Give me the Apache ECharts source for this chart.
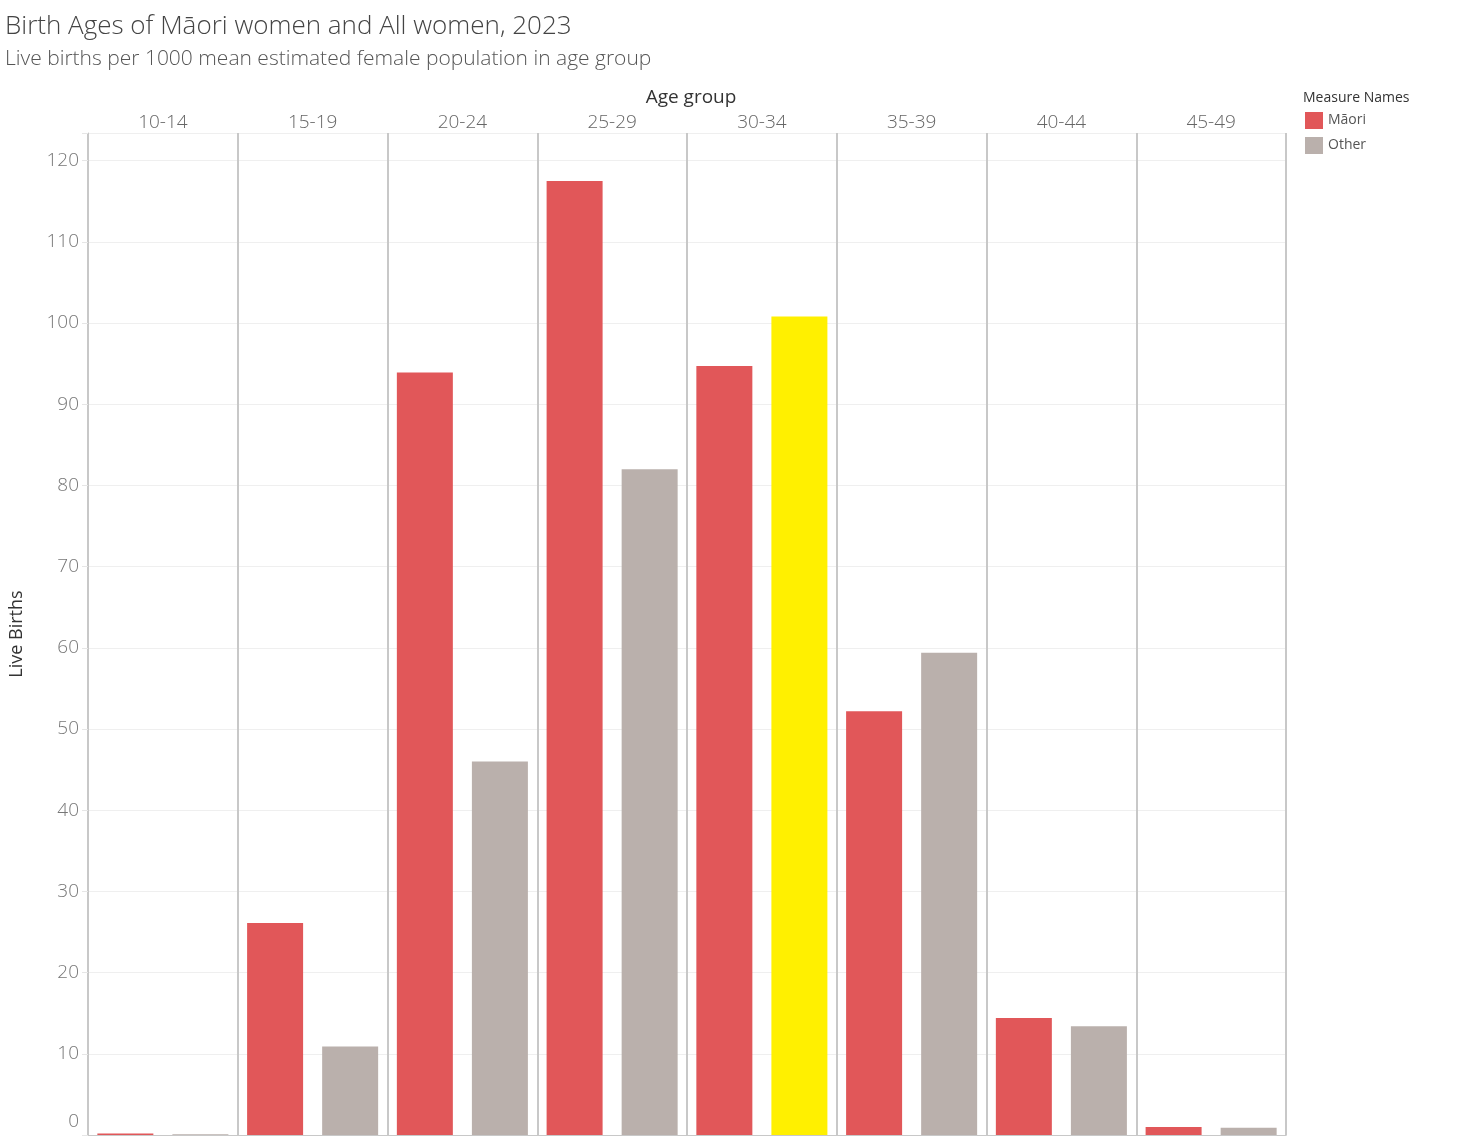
<!DOCTYPE html>
<html>
<head>
<meta charset="utf-8">
<script src="https://cdn.jsdelivr.net/npm/echarts@6/dist/echarts.min.js"></script>
<style>
html,body{margin:0;padding:0;background:#fff;}
#chart{width:1476px;height:1136px;}
</style>
</head>
<body>
<div id="chart"></div>
<script>
const ageGroups = ['10-14','15-19','20-24','25-29','30-34','35-39','40-44','45-49'];
const maoriValues = [0.2, 26.1, 93.9, 117.5, 94.7, 52.2, 14.4, 1.0];
const otherValues = [0.1, 10.9, 46.0, 82.0, 100.8, 59.4, 13.4, 0.9];
const highlightIndex = 4; // Other, 30-34 shown highlighted
const yTicks = [0,10,20,30,40,50,60,70,80,90,100,110,120];

const RED = '#E15759', GREY = '#BAB0AC', YELLOW = '#FFF000';
const FONT = '"Open Sans", "Noto Sans", sans-serif';

const chart = echarts.init(document.getElementById('chart'), null, {renderer:'canvas'});
chart.setOption({
  animation: false,
  backgroundColor: '#fff',
  textStyle: {fontFamily: FONT},
  title: [
    {text: 'Birth Ages of Māori women and All women, 2023', left: 0, top: 9,
     textStyle: {fontFamily: FONT, fontSize: 26, fontWeight: 300, color: '#444'}},
    {text: 'Live births per 1000 mean estimated female population in age group', left: 0, top: 44,
     textStyle: {fontFamily: FONT, fontSize: 21, fontWeight: 300, color: '#555'}},
    {text: 'Age group', left: 686, top: 83, textAlign: 'center',
     textStyle: {fontFamily: FONT, fontSize: 19, fontWeight: 'normal', color: '#333'}},
    {text: 'Measure Names', left: 1298, top: 86,
     textStyle: {fontFamily: FONT, fontSize: 14, fontWeight: 'normal', color: '#333'}}
  ],
  legend: {
    orient: 'vertical', left: 1305, top: 112, padding: 0, itemWidth: 18, itemHeight: 17, itemGap: 8,
    icon: 'rect',
    textStyle: {fontFamily: FONT, fontSize: 14, color: '#555'},
    data: ['Māori', 'Other']
  },
  grid: {left: 86, right: 190, top: 133, bottom: 1, containLabel: false},
  xAxis: [
    {type: 'category', data: ageGroups, position: 'top', boundaryGap: true,
     axisLine: {show: true, lineStyle: {color: '#c8c8c8', width: 1}},
     axisTick: {show: true, length: 26, interval: 0, lineStyle: {color: '#c8c8c8', width: 1}},
     axisLabel: {show: true, interval: 0, margin: 1, fontFamily: FONT, fontSize: 19, fontWeight: 300, color: '#666'},
     splitLine: {show: true, interval: 0, lineStyle: {color: '#c8c8c8', width: 2}}},
    {type: 'category', data: ageGroups, position: 'bottom', boundaryGap: true,
     axisLine: {show: true, lineStyle: {color: '#c8c8c8', width: 1}},
     axisTick: {show: false}, axisLabel: {show: false}, splitLine: {show: false}}
  ],
  yAxis: {
    type: 'value', min: 0, max: 123.4, interval: 10,
    name: 'Live Births', nameLocation: 'middle', nameGap: 62, nameRotate: 90,
    nameTextStyle: {fontFamily: FONT, fontSize: 18, color: '#333'},
    axisLine: {show: true, lineStyle: {color: '#c8c8c8', width: 1}},
    axisTick: {show: true, length: 6, lineStyle: {color: '#e6e6e6'}},
    splitLine: {show: true, lineStyle: {color: '#efefef', width: 1}},
    axisLabel: {
      margin: 9, fontFamily: FONT, fontSize: 19, fontWeight: 300, color: '#777',
      formatter: function (v) {
        if (yTicks.indexOf(v) < 0) return '';
        return v === 0 ? '{z|0}' : String(v);
      },
      rich: {z: {fontFamily: FONT, fontSize: 19, fontWeight: 300, color: '#777', padding: [0,0,26,0]}}
    }
  },
  series: [
    {name: 'Māori', type: 'bar', data: maoriValues, barWidth: 56, barGap: '34%',
     itemStyle: {color: RED}},
    {name: 'Other', type: 'bar', data: otherValues.map((v, i) =>
       i === highlightIndex ? {value: v, itemStyle: {color: YELLOW}} : v),
     barWidth: 56, itemStyle: {color: GREY}}
  ]
});
</script>
</body>
</html>
